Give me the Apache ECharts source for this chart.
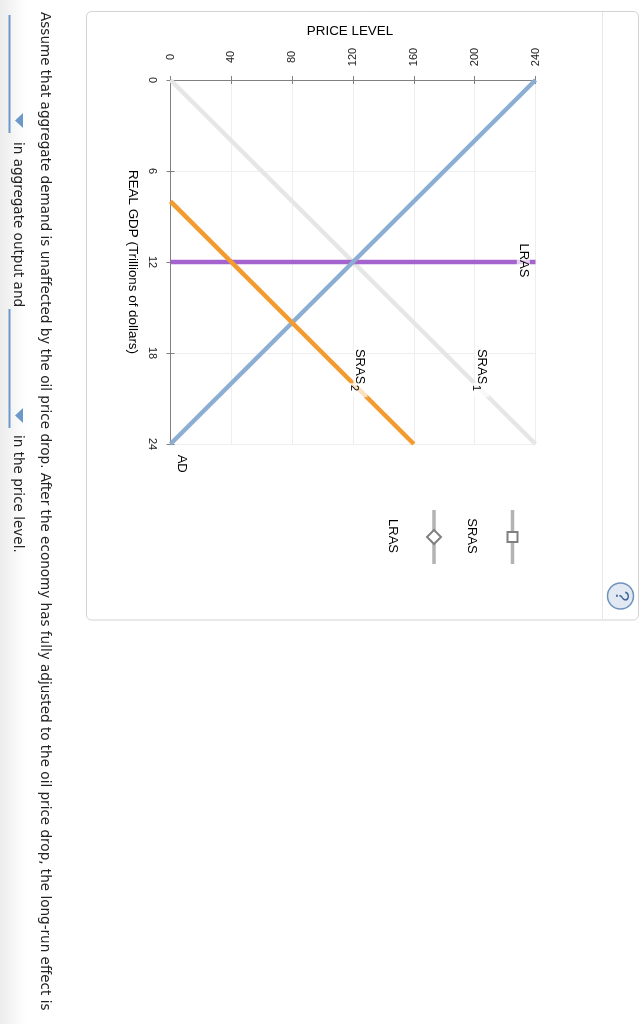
<!DOCTYPE html>
<html>
<head>
<meta charset="utf-8">
<title>Aggregate demand and supply</title>
<style>
    html, body { margin: 0; padding: 0; background: #fff; }
    #chart { width: 644px; height: 1024px; }
</style>
<script src="https://cdn.jsdelivr.net/npm/echarts@6/dist/echarts.min.js"></script>
</head>
<body>
<div id="chart"></div>
<script>
'use strict';

// tick labels
var priceTicks = [0, 40, 80, 120, 160, 200, 240];
var gdpTicks = [0, 6, 12, 18, 24];

// lines, each point is [price level, real gdp]
var sras1Points = [[0, 0], [240, 24]];
var sras2Points = [[0, 8], [160, 24]];
var adPoints = [[0, 24], [240, 0]];
var lrasPoints = [[0, 12], [240, 12]];

// curve labels, [price level, real gdp, text]
var curveLabels = [
    [232, 11.9, 'LRAS'],
    [204.5, 18.9, 'SRAS'],
    [124.5, 18.9, 'SRAS'],
    [7, 25.3, 'AD']
];
var subscriptLabels = [
    [200.6, 20.45, '1'],
    [120.6, 20.45, '2']
];

var questionLine = 'Assume that aggregate demand is unaffected by the oil price drop. After the economy has fully adjusted to the oil price drop, the long-run effect is';
var answerLine1 = 'in aggregate output and';
var answerLine2 = 'in the price level.';

var AXIS_COLOR = '#808080';
var GRID_COLOR = '#eeeeee';
var LABEL_FONT = '"Liberation Sans", Arial, sans-serif';
var QUESTION_FONT = '"DejaVu Sans", Verdana, sans-serif';
var CW = -Math.PI / 2;

function lineSeries(name, points, color, z) {
    return {
        name: name,
        type: 'line',
        data: points,
        symbol: 'none',
        z: z,
        silent: true,
        lineStyle: { color: color, width: 4.5 }
    };
}

function labelSeries(name, points, fontSize, padding) {
    return {
        name: name,
        type: 'scatter',
        data: points,
        symbolSize: 0,
        z: 10,
        silent: true,
        // the AD label sits below the last tick
        clip: false,
        itemStyle: { opacity: 1 },
        label: {
            show: true,
            position: 'inside',
            rotate: -90,
            formatter: function (p) { return p.value[2]; },
            fontFamily: LABEL_FONT,
            fontSize: fontSize,
            color: '#000',
            padding: padding,
            backgroundColor: 'rgba(255,255,255,0.7)'
        }
    };
}

function cwText(x, y, text, font, size, color, align) {
    return {
        type: 'text',
        x: x,
        y: y,
        rotation: CW,
        silent: true,
        style: {
            text: text,
            fontFamily: font,
            fontSize: size,
            fill: color,
            align: align || 'center',
            verticalAlign: 'middle'
        }
    };
}

function dropdown(top, bottom) {
    return [
        { type: 'line', silent: true, shape: { x1: 9.5, y1: top, x2: 9.5, y2: bottom },
          style: { stroke: '#6c99c9', lineWidth: 2 } },
        { type: 'polygon', silent: true,
          shape: { points: [[15, bottom - 12.5], [23, bottom - 20], [23, bottom - 5]] },
          style: { fill: '#6c99c9' } }
    ];
}

function legendHandle(x, symbol) {
    return [
        { type: 'line', silent: true, shape: { x1: x, y1: 510, x2: x, y2: 564 },
          style: { stroke: '#b3b3b3', lineWidth: 3.5 } },
        symbol
    ];
}

var markerStyle = { fill: '#fff', stroke: AXIS_COLOR, lineWidth: 2 };

var graphics = [
    // grey fade at the left edge of the page
    { type: 'rect', silent: true, z: -10, shape: { x: 0, y: 0, width: 26, height: 1024 },
      style: { fill: new echarts.graphic.LinearGradient(0, 0, 1, 0, [
          { offset: 0, color: '#ececec' }, { offset: 1, color: '#ffffff' }
      ]) } },
    // panel
    { type: 'rect', silent: true, z: -10, shape: { x: 86.5, y: 11.5, width: 552, height: 608.5, r: 5 },
      style: { fill: '#fff', stroke: '#d2d2d2', lineWidth: 1 } },
    { type: 'line', silent: true, z: -9, shape: { x1: 602.5, y1: 12, x2: 602.5, y2: 620 },
      style: { stroke: '#e8e8e8', lineWidth: 1 } },
    // help button
    { type: 'circle', silent: true, shape: { cx: 620.5, cy: 596, r: 13 },
      style: { fill: '#e2e9f2', stroke: '#6f93bd', lineWidth: 1.5 } },
    cwText(621, 596, '?', LABEL_FONT, 19, '#3f659a'),
    // question text
    cwText(44.5, 12, questionLine, QUESTION_FONT, 13.55, '#222', 'left'),
    cwText(17.5, 142, answerLine1, QUESTION_FONT, 13.55, '#222', 'left'),
    cwText(17.5, 435, answerLine2, QUESTION_FONT, 13.55, '#222', 'left'),
    // legend
    cwText(472, 536, 'SRAS', LABEL_FONT, 13, '#000'),
    cwText(393, 536, 'LRAS', LABEL_FONT, 13, '#000')
];
graphics = graphics.concat(dropdown(15, 133), dropdown(309, 428));
graphics = graphics.concat(legendHandle(512.5, {
    type: 'rect', silent: true, shape: { x: 507.5, y: 532, width: 10, height: 10 }, style: markerStyle
}));
graphics = graphics.concat(legendHandle(434, {
    type: 'polygon', silent: true,
    shape: { points: [[434, 530], [441, 537], [434, 544], [427, 537]] }, style: markerStyle
}));

var chart = echarts.init(document.getElementById('chart'));

chart.setOption({
    animation: false,
    backgroundColor: '#fff',
    grid: { left: 170.5, top: 80, width: 365, height: 364 },
    xAxis: [{
        type: 'value',
        position: 'top',
        min: priceTicks[0],
        max: priceTicks[priceTicks.length - 1],
        interval: priceTicks[1] - priceTicks[0],
        name: 'PRICE LEVEL',
        nameLocation: 'middle',
        nameGap: 42,
        nameTextStyle: { fontFamily: LABEL_FONT, fontSize: 13.4, color: '#000', padding: [0, 6, 0, 0] },
        axisLine: { onZero: false, lineStyle: { color: AXIS_COLOR, width: 1 } },
        axisTick: { length: 4, lineStyle: { color: AXIS_COLOR } },
        axisLabel: { rotate: -90, margin: 23, fontFamily: LABEL_FONT, fontSize: 11, color: '#222', align: 'center', verticalAlign: 'middle', showMinLabel: true, showMaxLabel: true },
        splitLine: { show: true, lineStyle: { color: GRID_COLOR, width: 1 } }
    }, {
        // second axis only adds the inner half of the ticks
        type: 'value',
        position: 'top',
        min: priceTicks[0],
        max: priceTicks[priceTicks.length - 1],
        interval: priceTicks[1] - priceTicks[0],
        axisLine: { show: false, onZero: false },
        axisTick: { show: true, inside: true, length: 4, lineStyle: { color: AXIS_COLOR } },
        axisLabel: { show: false },
        splitLine: { show: false }
    }],
    yAxis: [{
        type: 'value',
        position: 'left',
        inverse: true,
        min: gdpTicks[0],
        max: gdpTicks[gdpTicks.length - 1],
        interval: gdpTicks[1] - gdpTicks[0],
        name: 'REAL GDP (Trillions of dollars)',
        nameLocation: 'middle',
        nameRotate: -90,
        nameGap: 31,
        nameTextStyle: { fontFamily: LABEL_FONT, fontSize: 13.4, color: '#000' },
        axisLine: { onZero: false, lineStyle: { color: AXIS_COLOR, width: 1 } },
        axisTick: { show: true, length: 4, lineStyle: { color: AXIS_COLOR } },
        axisLabel: { rotate: -90, margin: 18, fontFamily: LABEL_FONT, fontSize: 11, color: '#222', align: 'center', verticalAlign: 'middle', showMinLabel: true, showMaxLabel: true },
        splitLine: { show: true, lineStyle: { color: GRID_COLOR, width: 1 } }
    }, {
        type: 'value',
        position: 'left',
        inverse: true,
        min: gdpTicks[0],
        max: gdpTicks[gdpTicks.length - 1],
        interval: gdpTicks[1] - gdpTicks[0],
        axisLine: { show: false, onZero: false },
        axisTick: { show: true, inside: true, length: 4, lineStyle: { color: AXIS_COLOR } },
        axisLabel: { show: false },
        splitLine: { show: false }
    }],
    graphic: graphics,
    series: [
        lineSeries('SRAS1', sras1Points, '#e6e6e6', 2),
        lineSeries('LRAS', lrasPoints, '#a463cd', 3),
        lineSeries('AD', adPoints, '#8daed3', 4),
        lineSeries('SRAS2', sras2Points, '#f49b30', 5),
        labelSeries('curve labels', curveLabels, 13, [0, 1, 0, 1]),
        labelSeries('subscripts', subscriptLabels, 11, [14, 6, 2, 2])
    ]
});
</script>
</body>
</html>
